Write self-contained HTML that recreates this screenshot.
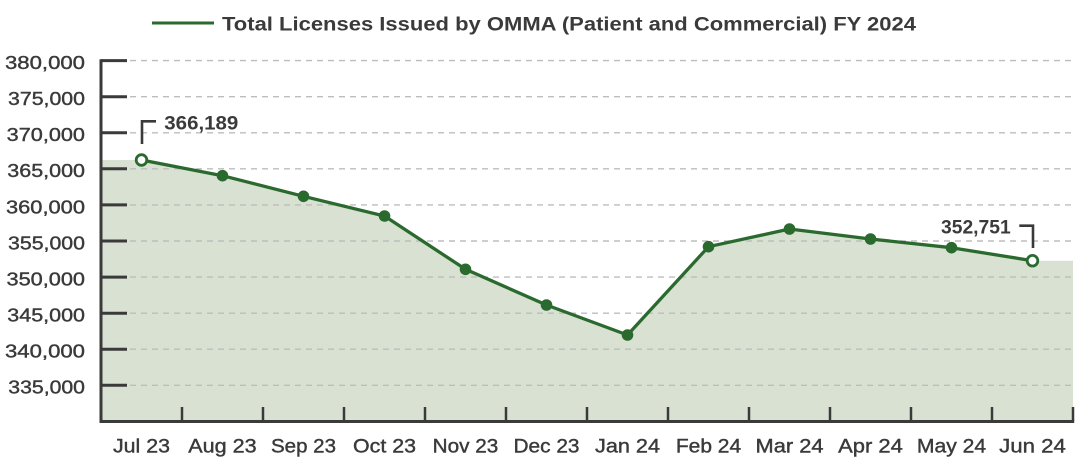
<!DOCTYPE html>
<html><head><meta charset="utf-8"><style>
html,body{margin:0;padding:0;background:#fff;}
svg{display:block;}
text{font-family:"Liberation Sans",sans-serif;fill:#3a3a3a;}
</style></head><body>
<svg width="1080" height="464" viewBox="0 0 1080 464" xmlns="http://www.w3.org/2000/svg">
<!-- legend -->
<line x1="152" y1="23" x2="214" y2="23" stroke="#2b6a2e" stroke-width="3"/>
<text x="222" y="30.5" font-size="19" font-weight="bold" textLength="694" lengthAdjust="spacingAndGlyphs">Total Licenses Issued by OMMA (Patient and Commercial) FY 2024</text>

<!-- area -->
<path d="M101,421.4 L101,160 L141.5,160 L222.5,175.7 L303.5,196.3 L384.5,216 L465.5,269.3 L546.5,305 L627.5,335 L708.5,246.7 L789.5,229 L870.5,239 L951.5,247.7 L1032.5,260.7 L1073,260.7 L1073,421.4 Z" fill="#d9e1d2"/>

<!-- gridlines -->
<g stroke="#bdbdbd" stroke-width="1.4" stroke-dasharray="6,5">
<line x1="130" y1="60.6" x2="1073" y2="60.6"/>
<line x1="130" y1="96.7" x2="1073" y2="96.7"/>
<line x1="130" y1="132.8" x2="1073" y2="132.8"/>
<line x1="130" y1="168.8" x2="1073" y2="168.8"/>
<line x1="130" y1="204.9" x2="1073" y2="204.9"/>
<line x1="130" y1="241" x2="1073" y2="241"/>
<line x1="130" y1="277.1" x2="1073" y2="277.1"/>
<line x1="130" y1="313.2" x2="1073" y2="313.2"/>
<line x1="130" y1="349.2" x2="1073" y2="349.2"/>
<line x1="130" y1="385.3" x2="1073" y2="385.3"/>
</g>

<!-- y ticks -->
<g stroke="#3a3a3a" stroke-width="3">
<line x1="101" y1="60.6" x2="127" y2="60.6"/>
<line x1="101" y1="96.7" x2="127" y2="96.7"/>
<line x1="101" y1="132.8" x2="127" y2="132.8"/>
<line x1="101" y1="168.8" x2="127" y2="168.8"/>
<line x1="101" y1="204.9" x2="127" y2="204.9"/>
<line x1="101" y1="241" x2="127" y2="241"/>
<line x1="101" y1="277.1" x2="127" y2="277.1"/>
<line x1="101" y1="313.2" x2="127" y2="313.2"/>
<line x1="101" y1="349.2" x2="127" y2="349.2"/>
<line x1="101" y1="385.3" x2="127" y2="385.3"/>
</g>
<!-- x ticks -->
<g stroke="#3a3a3a" stroke-width="2.5">
<line x1="182" y1="407" x2="182" y2="421"/>
<line x1="263" y1="407" x2="263" y2="421"/>
<line x1="344" y1="407" x2="344" y2="421"/>
<line x1="425" y1="407" x2="425" y2="421"/>
<line x1="506" y1="407" x2="506" y2="421"/>
<line x1="587" y1="407" x2="587" y2="421"/>
<line x1="668" y1="407" x2="668" y2="421"/>
<line x1="749" y1="407" x2="749" y2="421"/>
<line x1="830" y1="407" x2="830" y2="421"/>
<line x1="911" y1="407" x2="911" y2="421"/>
<line x1="992" y1="407" x2="992" y2="421"/>
<line x1="1073" y1="407" x2="1073" y2="421"/>
</g>
<!-- axes -->
<path d="M101,59.3 L101,421.5 L1074.2,421.5" fill="none" stroke="#3a3a3a" stroke-width="3"/>

<!-- y labels -->
<g font-size="18" text-anchor="end" stroke="#3a3a3a" stroke-width="0.4">
<text x="85" y="69" textLength="80" lengthAdjust="spacingAndGlyphs">380,000</text>
<text x="85" y="105" textLength="77" lengthAdjust="spacingAndGlyphs">375,000</text>
<text x="85" y="141.2" textLength="78.3" lengthAdjust="spacingAndGlyphs">370,000</text>
<text x="85" y="177.2" textLength="77.7" lengthAdjust="spacingAndGlyphs">365,000</text>
<text x="85" y="213.3" textLength="79" lengthAdjust="spacingAndGlyphs">360,000</text>
<text x="85" y="249.4" textLength="77" lengthAdjust="spacingAndGlyphs">355,000</text>
<text x="85" y="285.5" textLength="78.5" lengthAdjust="spacingAndGlyphs">350,000</text>
<text x="85" y="321.6" textLength="77.7" lengthAdjust="spacingAndGlyphs">345,000</text>
<text x="85" y="357.6" textLength="80" lengthAdjust="spacingAndGlyphs">340,000</text>
<text x="85" y="393.7" textLength="76.7" lengthAdjust="spacingAndGlyphs">335,000</text>
</g>

<!-- x labels -->
<g font-size="19" text-anchor="middle" stroke="#3a3a3a" stroke-width="0.4">
<text x="141.5" y="452.5" textLength="57" lengthAdjust="spacingAndGlyphs">Jul 23</text>
<text x="222.5" y="452.5" textLength="68.4" lengthAdjust="spacingAndGlyphs">Aug 23</text>
<text x="303.5" y="452.5" textLength="65" lengthAdjust="spacingAndGlyphs">Sep 23</text>
<text x="384.5" y="452.5" textLength="63" lengthAdjust="spacingAndGlyphs">Oct 23</text>
<text x="465.5" y="452.5" textLength="65.6" lengthAdjust="spacingAndGlyphs">Nov 23</text>
<text x="546.5" y="452.5" textLength="66" lengthAdjust="spacingAndGlyphs">Dec 23</text>
<text x="627.5" y="452.5" textLength="65" lengthAdjust="spacingAndGlyphs">Jan 24</text>
<text x="708.5" y="452.5" textLength="65.3" lengthAdjust="spacingAndGlyphs">Feb 24</text>
<text x="789.5" y="452.5" textLength="68" lengthAdjust="spacingAndGlyphs">Mar 24</text>
<text x="870.5" y="452.5" textLength="64.7" lengthAdjust="spacingAndGlyphs">Apr 24</text>
<text x="951.5" y="452.5" textLength="69.3" lengthAdjust="spacingAndGlyphs">May 24</text>
<text x="1032.5" y="452.5" textLength="66.7" lengthAdjust="spacingAndGlyphs">Jun 24</text>
</g>

<!-- series line -->
<polyline points="141.5,160 222.5,175.7 303.5,196.3 384.5,216 465.5,269.3 546.5,305 627.5,335 708.5,246.7 789.5,229 870.5,239 951.5,247.7 1032.5,260.7" fill="none" stroke="#2b6a2e" stroke-width="3.3" stroke-linejoin="round"/>
<g fill="#2b6a2e">
<circle cx="222.5" cy="175.7" r="5.8"/>
<circle cx="303.5" cy="196.3" r="5.8"/>
<circle cx="384.5" cy="216" r="5.8"/>
<circle cx="465.5" cy="269.3" r="5.8"/>
<circle cx="546.5" cy="305" r="5.8"/>
<circle cx="627.5" cy="335" r="5.8"/>
<circle cx="708.5" cy="246.7" r="5.8"/>
<circle cx="789.5" cy="229" r="5.8"/>
<circle cx="870.5" cy="239" r="5.8"/>
<circle cx="951.5" cy="247.7" r="5.8"/>
</g>
<circle cx="141.5" cy="160" r="5.3" fill="#fff" stroke="#2b6a2e" stroke-width="2.8"/>
<circle cx="1032.5" cy="260.7" r="5.3" fill="#fff" stroke="#2b6a2e" stroke-width="2.8"/>

<!-- annotations -->
<path d="M142,144 L142,121.3 L156,121.3" fill="none" stroke="#3a3a3a" stroke-width="2.6"/>
<text x="164.3" y="129.5" font-size="19" font-weight="bold" textLength="74" lengthAdjust="spacingAndGlyphs">366,189</text>
<path d="M1019.3,225.7 L1033,225.7 L1033,248" fill="none" stroke="#3a3a3a" stroke-width="2.6"/>
<text x="941" y="233.3" font-size="19" font-weight="bold" textLength="69.7" lengthAdjust="spacingAndGlyphs">352,751</text>
</svg>
</body></html>
